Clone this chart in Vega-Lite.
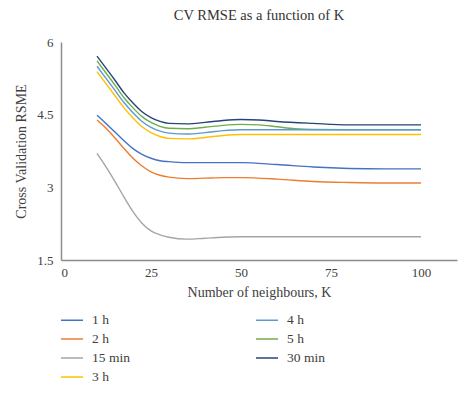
{
  "$schema": "https://vega.github.io/schema/vega-lite/v6.json",
  "autosize": {"type": "none"},
  "padding": {"left": 61, "top": 42, "right": 17, "bottom": 137},
  "width": 396,
  "height": 218,
  "background": "white",
  "title": {"text": "CV RMSE as a function of K", "font": "Liberation Serif", "fontSize": 14.5, "fontWeight": "normal", "color": "#333333", "anchor": "middle", "offset": 13},
  "config": {
    "view": {"stroke": null},
    "axis": {"grid": false, "ticks": false, "domainColor": "#8c8c8c", "domainWidth": 1.5, "labelFont": "Liberation Serif", "labelFontSize": 13, "labelColor": "#404040", "titleFont": "Liberation Serif", "titleFontSize": 14, "titleFontWeight": "normal", "titleColor": "#404040"},
    "legend": {"labelFont": "Liberation Serif", "labelFontSize": 13.5, "labelColor": "#404040"}
  },
  "data": {"values": [
    {"K": 10, "s": "30 min", "v": 5.71}, {"K": 12.5, "s": "30 min", "v": 5.46}, {"K": 15, "s": "30 min", "v": 5.21}, {"K": 17.5, "s": "30 min", "v": 4.95}, {"K": 20, "s": "30 min", "v": 4.74}, {"K": 22.5, "s": "30 min", "v": 4.56}, {"K": 25, "s": "30 min", "v": 4.44}, {"K": 27.5, "s": "30 min", "v": 4.36}, {"K": 30, "s": "30 min", "v": 4.32}, {"K": 35, "s": "30 min", "v": 4.31}, {"K": 40, "s": "30 min", "v": 4.34}, {"K": 45, "s": "30 min", "v": 4.38}, {"K": 50, "s": "30 min", "v": 4.40}, {"K": 55, "s": "30 min", "v": 4.39}, {"K": 60, "s": "30 min", "v": 4.36}, {"K": 70, "s": "30 min", "v": 4.32}, {"K": 80, "s": "30 min", "v": 4.29}, {"K": 90, "s": "30 min", "v": 4.29}, {"K": 100, "s": "30 min", "v": 4.29},
    {"K": 10, "s": "5 h", "v": 5.61}, {"K": 12.5, "s": "5 h", "v": 5.36}, {"K": 15, "s": "5 h", "v": 5.11}, {"K": 17.5, "s": "5 h", "v": 4.85}, {"K": 20, "s": "5 h", "v": 4.64}, {"K": 22.5, "s": "5 h", "v": 4.46}, {"K": 25, "s": "5 h", "v": 4.34}, {"K": 27.5, "s": "5 h", "v": 4.26}, {"K": 30, "s": "5 h", "v": 4.22}, {"K": 35, "s": "5 h", "v": 4.21}, {"K": 40, "s": "5 h", "v": 4.24}, {"K": 45, "s": "5 h", "v": 4.28}, {"K": 50, "s": "5 h", "v": 4.30}, {"K": 55, "s": "5 h", "v": 4.29}, {"K": 60, "s": "5 h", "v": 4.25}, {"K": 65, "s": "5 h", "v": 4.21}, {"K": 70, "s": "5 h", "v": 4.195}, {"K": 80, "s": "5 h", "v": 4.19}, {"K": 90, "s": "5 h", "v": 4.19}, {"K": 100, "s": "5 h", "v": 4.19},
    {"K": 10, "s": "4 h", "v": 5.50}, {"K": 12.5, "s": "4 h", "v": 5.25}, {"K": 15, "s": "4 h", "v": 5.00}, {"K": 17.5, "s": "4 h", "v": 4.75}, {"K": 20, "s": "4 h", "v": 4.54}, {"K": 22.5, "s": "4 h", "v": 4.36}, {"K": 25, "s": "4 h", "v": 4.24}, {"K": 27.5, "s": "4 h", "v": 4.16}, {"K": 30, "s": "4 h", "v": 4.12}, {"K": 35, "s": "4 h", "v": 4.10}, {"K": 40, "s": "4 h", "v": 4.13}, {"K": 45, "s": "4 h", "v": 4.17}, {"K": 50, "s": "4 h", "v": 4.19}, {"K": 60, "s": "4 h", "v": 4.19}, {"K": 70, "s": "4 h", "v": 4.19}, {"K": 80, "s": "4 h", "v": 4.19}, {"K": 90, "s": "4 h", "v": 4.19}, {"K": 100, "s": "4 h", "v": 4.19},
    {"K": 10, "s": "3 h", "v": 5.39}, {"K": 12.5, "s": "3 h", "v": 5.14}, {"K": 15, "s": "3 h", "v": 4.89}, {"K": 17.5, "s": "3 h", "v": 4.64}, {"K": 20, "s": "3 h", "v": 4.43}, {"K": 22.5, "s": "3 h", "v": 4.25}, {"K": 25, "s": "3 h", "v": 4.13}, {"K": 27.5, "s": "3 h", "v": 4.05}, {"K": 30, "s": "3 h", "v": 4.01}, {"K": 35, "s": "3 h", "v": 4.00}, {"K": 40, "s": "3 h", "v": 4.03}, {"K": 45, "s": "3 h", "v": 4.07}, {"K": 50, "s": "3 h", "v": 4.09}, {"K": 60, "s": "3 h", "v": 4.09}, {"K": 70, "s": "3 h", "v": 4.09}, {"K": 80, "s": "3 h", "v": 4.09}, {"K": 90, "s": "3 h", "v": 4.09}, {"K": 100, "s": "3 h", "v": 4.09},
    {"K": 10, "s": "1 h", "v": 4.49}, {"K": 12.5, "s": "1 h", "v": 4.32}, {"K": 15, "s": "1 h", "v": 4.14}, {"K": 17.5, "s": "1 h", "v": 3.96}, {"K": 20, "s": "1 h", "v": 3.80}, {"K": 22.5, "s": "1 h", "v": 3.68}, {"K": 25, "s": "1 h", "v": 3.60}, {"K": 27.5, "s": "1 h", "v": 3.55}, {"K": 30, "s": "1 h", "v": 3.53}, {"K": 35, "s": "1 h", "v": 3.51}, {"K": 40, "s": "1 h", "v": 3.51}, {"K": 50, "s": "1 h", "v": 3.51}, {"K": 60, "s": "1 h", "v": 3.47}, {"K": 70, "s": "1 h", "v": 3.42}, {"K": 80, "s": "1 h", "v": 3.39}, {"K": 90, "s": "1 h", "v": 3.38}, {"K": 100, "s": "1 h", "v": 3.38},
    {"K": 10, "s": "2 h", "v": 4.39}, {"K": 12.5, "s": "2 h", "v": 4.22}, {"K": 15, "s": "2 h", "v": 4.02}, {"K": 17.5, "s": "2 h", "v": 3.80}, {"K": 20, "s": "2 h", "v": 3.60}, {"K": 22.5, "s": "2 h", "v": 3.44}, {"K": 25, "s": "2 h", "v": 3.32}, {"K": 27.5, "s": "2 h", "v": 3.25}, {"K": 30, "s": "2 h", "v": 3.21}, {"K": 35, "s": "2 h", "v": 3.18}, {"K": 40, "s": "2 h", "v": 3.19}, {"K": 45, "s": "2 h", "v": 3.20}, {"K": 50, "s": "2 h", "v": 3.20}, {"K": 60, "s": "2 h", "v": 3.17}, {"K": 70, "s": "2 h", "v": 3.12}, {"K": 80, "s": "2 h", "v": 3.10}, {"K": 90, "s": "2 h", "v": 3.09}, {"K": 100, "s": "2 h", "v": 3.09},
    {"K": 10, "s": "15 min", "v": 3.70}, {"K": 12.5, "s": "15 min", "v": 3.42}, {"K": 15, "s": "15 min", "v": 3.12}, {"K": 17.5, "s": "15 min", "v": 2.80}, {"K": 20, "s": "15 min", "v": 2.50}, {"K": 22.5, "s": "15 min", "v": 2.26}, {"K": 25, "s": "15 min", "v": 2.10}, {"K": 27.5, "s": "15 min", "v": 2.02}, {"K": 30, "s": "15 min", "v": 1.97}, {"K": 35, "s": "15 min", "v": 1.93}, {"K": 40, "s": "15 min", "v": 1.95}, {"K": 45, "s": "15 min", "v": 1.97}, {"K": 50, "s": "15 min", "v": 1.98}, {"K": 60, "s": "15 min", "v": 1.98}, {"K": 70, "s": "15 min", "v": 1.98}, {"K": 80, "s": "15 min", "v": 1.98}, {"K": 90, "s": "15 min", "v": 1.98}, {"K": 100, "s": "15 min", "v": 1.98}
  ]},
  "mark": {"type": "line", "interpolate": "monotone", "strokeWidth": 1.4},
  "encoding": {
    "x": {"field": "K", "type": "quantitative", "scale": {"domain": [0, 110], "nice": false}, "axis": {"values": [0, 25, 50, 75, 100], "title": "Number of neighbours, K", "labelPadding": 6, "titlePadding": 6}},
    "y": {"field": "v", "type": "quantitative", "scale": {"domain": [1.5, 6], "nice": false, "zero": false}, "axis": {"values": [1.5, 3, 4.5, 6], "format": ".1~f", "title": "Cross Validation RSME", "labelPadding": 8, "titlePadding": 8}},
    "color": {"field": "s", "type": "nominal", "scale": {"domain": ["1 h", "2 h", "15 min", "3 h", "4 h", "5 h", "30 min"], "range": ["#4472C4", "#ED7D31", "#A5A5A5", "#FFC000", "#5B9BD5", "#70AD47", "#264478"]},
      "legend": {"title": null, "orient": "none", "legendX": -1, "legendY": 266, "columns": 2, "columnPadding": 123, "rowPadding": -3.6, "symbolType": "stroke", "symbolSize": 484, "symbolStrokeWidth": 1.5, "labelOffset": 8}}
  }
}
